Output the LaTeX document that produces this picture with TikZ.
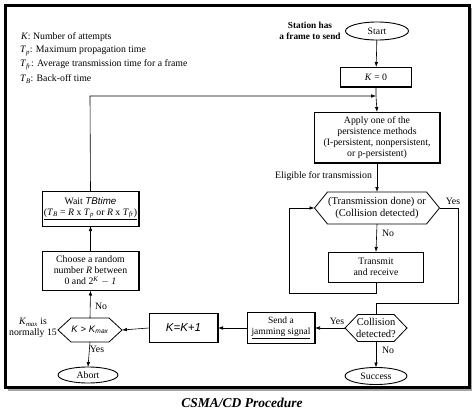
\documentclass[tikz,border=0pt]{standalone}
\usepackage{fontspec}
\setmainfont{Liberation Serif}
\setsansfont{Liberation Sans}
\usetikzlibrary{shapes.geometric,arrows.meta,calc}
\newcommand{\vsub}[2]{\textit{#1}\textsubscript{\textit{#2}}}
\newcommand{\hexdraw}[2]{\draw[hexline] (#1.west) -- ([xshift=#2]#1.north west) -- ([xshift=-#2]#1.north east) -- (#1.east) -- ([xshift=-#2]#1.south east) -- ([xshift=#2]#1.south west) -- cycle;}
\newcommand{\rightedge}[1]{\draw[line width=1.6pt] (#1.north east) -- (#1.south east);}
\newcommand{\bottomedge}[1]{\draw[line width=1.4pt] (#1.south west) -- (#1.south east);}
\tikzset{
  every node/.style={font=\fontsize{9.8}{11}\selectfont, inner sep=0pt, outer sep=0pt},
  pbox/.style={draw, line width=0.6pt, rectangle, align=center},
  oval/.style={draw, line width=0.9pt, ellipse, align=center},
  hexnode/.style={rectangle, align=center},
  hexline/.style={line width=0.8pt},
  lbl/.style={align=center},
  conn/.style={line width=0.6pt},
  arr/.style={conn, -{Latex[length=5pt,width=3.6pt]}}
}
\begin{document}
\begin{tikzpicture}[x=1pt,y=-1pt]
\useasboundingbox (0,0) rectangle (474,415);
% frame
\fill[black!35] (8,8) rectangle (472,391);
\fill[white] (5.5,5.5) rectangle (469,387);
\draw[line width=3pt] (5.5,5.5) rectangle (469,387);
\node[font=\fontsize{13.5}{15}\selectfont\bfseries\itshape] (cap) at (242,403) {CSMA/CD Procedure};

% legend
\node[anchor=west] (lg1) at (21,37) {\textit{K}: Number of attempts};
\node[anchor=west] (lg2) at (20,51) {\vsub{T}{p}: Maximum propagation time};
\node[anchor=west] (lg3) at (20,65) {\vsub{T}{fr}: Average transmission time for a frame};
\node[anchor=west] (lg4) at (20,79) {\vsub{T}{B}: Back-off time};

% nodes
\node[oval, minimum width=63pt, minimum height=18pt] (start) at (377,31) {Start};
\node[lbl, font=\fontsize{9.3}{10.5}\selectfont\bfseries] (station) at (310,31) {Station has\\a frame to send};
\node[pbox, minimum width=71pt, minimum height=20pt] (k0) at (376,77) {\textit{K} = 0};
\coordinate (j1) at (376,96);
\node[pbox, minimum width=126pt, minimum height=51pt] (apply) at (377,137.5) {Apply one of the\\persistence methods\\(I-persistent, nonpersistent,\\or p-persistent)};
\node[anchor=east] (elig) at (372,176) {Eligible for transmission};
\node[hexnode, minimum width=125pt, minimum height=32pt, font=\fontsize{10.5}{12}\selectfont] (d1) at (377,208) {(Transmission done) or\\(Collision detected)};
\node (yes1) at (453,201) {Yes};
\node (no1) at (388,233) {No};
\node[pbox, line width=0.9pt, minimum width=95pt, minimum height=30pt] (tr) at (376,267) {Transmit\\and receive};
\coordinate (b1) at (376,293);
\coordinate (b2) at (289,293);
\coordinate (b3) at (458,303);
\node[hexnode, minimum width=62pt, minimum height=27pt, font=\fontsize{10.5}{11.5}\selectfont] (col) at (376,328) {Collision\\detected?};
\node (yes2) at (337,321) {Yes};
\node (no2) at (388,350) {No};
\node[oval, minimum width=62pt, minimum height=17pt] (succ) at (376,376) {Success};
\node[pbox, minimum width=68pt, minimum height=31pt, font=\fontsize{9.5}{11}\selectfont] (send) at (281,328) {Send a\\\underline{jamming signal}};
\node[pbox, minimum width=69pt, minimum height=29pt, font=\fontsize{11.5}{12}\selectfont\sffamily\itshape] (kk) at (183.5,328) {K=K+1};
\node[hexnode, minimum width=64pt, minimum height=24pt, font=\fontsize{9.5}{10}\selectfont\sffamily] (kmax) at (90,330) {\textit{K} > \textit{K}\textsubscript{\textit{max}}};
\node[lbl] (kmt) at (33,328) {\vsub{K}{max} is\\normally 15};
\node (no3) at (101,306) {No};
\node (yes3) at (97,349) {Yes};
\node[oval, minimum width=60pt, minimum height=16pt] (abort) at (88,375) {Abort};
\node[pbox, minimum width=97pt, minimum height=39pt] (choose) at (90.5,271) {Choose a random\\number \textit{R} between\\0 and 2\textsuperscript{\textit{K}} $-$ \textit{1}};
\node[pbox, minimum width=97pt, minimum height=35pt] (wait) at (90.5,208.5) {Wait \textsf{\textit{TBtime}}\\\underline{(\vsub{T}{B} = \textit{R} x \vsub{T}{p} or \textit{R} x \vsub{T}{fr})}};
\coordinate (c1) at (90,96);

% hexagons and edges
\hexdraw{d1}{13pt}
\hexdraw{col}{13pt}
\hexdraw{kmax}{13pt}
\rightedge{k0}\bottomedge{k0}
\rightedge{apply}\bottomedge{apply}
\rightedge{wait}
\rightedge{choose}\bottomedge{choose}
\rightedge{send}
\rightedge{kk}

% connectors
\draw[arr] (start) -- (k0);
\draw[arr] (k0.south) -- (j1) -- (apply.north);
\draw[arr] (wait.north) -- (c1) -- (j1);
\draw[arr] (apply.south) -- (d1.north);
\draw[arr] (d1.south) -- (tr.north);
\draw[arr] (tr.south) -- (b1) -- (b2) |- (d1.west);
\draw[conn] (d1.east) -| (b3) -| (col.north);
\draw[arr] (col.west) -- (send.east);
\draw[arr] (col.south) -- (succ.north);
\draw[arr] (send.west) -- (kk.east);
\draw[arr] (kk.west) -- (kmax.east);
\draw[arr] (kmax.north) -- (choose.south);
\draw[arr] (kmax.south) -- (abort.north);
\draw[arr] (choose.north) -- (wait.south);
\end{tikzpicture}
\end{document}
